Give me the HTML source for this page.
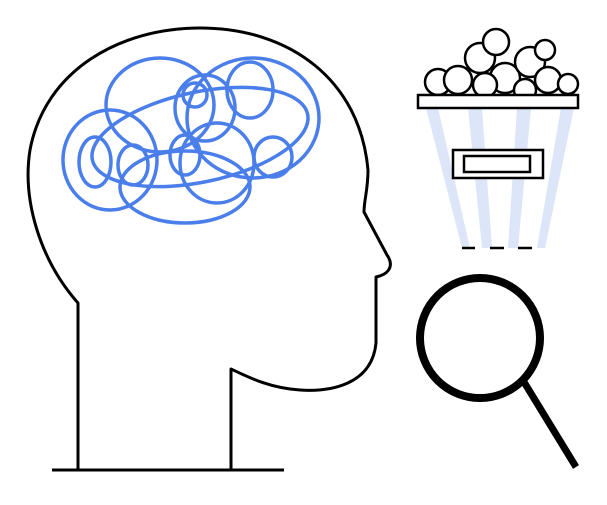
<!DOCTYPE html><html><head><style>body{margin:0;background:#fff}</style></head><body>
<svg width="607" height="500" viewBox="0 0 607 500" xmlns="http://www.w3.org/2000/svg">
<g fill="none" stroke="#000" stroke-width="3" stroke-linejoin="round">
<line x1="52" y1="470" x2="284" y2="470"/>
<path d="M78 470 V303 C40 260 22 200 30 150 C45 70 120 28 200 28 C290 28 360 80 368 170 C368 190 364 200 364 212 L387 255 C394 265 390 274 376 277 V343 C372 385 330 392 300 390 C270 388 250 378 231 369 V470"/>
</g>
<g fill="none" stroke="#4a7eea" stroke-width="3.5">
<ellipse cx="110" cy="160" rx="47" ry="50"/>
<ellipse cx="160" cy="105" rx="54" ry="47"/>
<ellipse cx="253" cy="118" rx="66" ry="60"/>
<ellipse cx="217" cy="163" rx="37" ry="40"/>
<ellipse cx="185" cy="187" rx="65" ry="36"/>
<ellipse cx="273" cy="157" rx="19" ry="20"/>
<ellipse cx="200" cy="137" rx="110" ry="45" transform="rotate(-12 200 137)"/>
<ellipse cx="205" cy="108" rx="30" ry="33"/>
<ellipse cx="250" cy="90" rx="23" ry="28"/>
<ellipse cx="195" cy="95" rx="12" ry="12"/>
<ellipse cx="95" cy="162" rx="16" ry="25"/>
<ellipse cx="133" cy="165" rx="15" ry="20"/>
<ellipse cx="185" cy="155" rx="15" ry="20"/>
</g>
<g fill="#dce6f8">
<polygon points="426,108 438,108 470,248 462,248"/>
<polygon points="468,108 482,108 492,248 482,248"/>
<polygon points="517,108 531,108 518,248 508,248"/>
<polygon points="561,108 574,108 545,248 537,248"/>
</g>
<g fill="#fff" stroke="#000" stroke-width="2.5">
<circle cx="438" cy="82" r="13"/><circle cx="458" cy="80" r="14"/><circle cx="480" cy="58" r="15"/>
<circle cx="496" cy="42" r="13"/><circle cx="505" cy="78" r="15"/><circle cx="530" cy="62" r="15"/>
<circle cx="545" cy="50" r="10"/><circle cx="548" cy="80" r="13"/><circle cx="568" cy="84" r="10"/>
<circle cx="485" cy="85" r="12"/><circle cx="525" cy="90" r="11"/>
<rect x="418" y="95" width="160" height="13"/>
<rect x="453" y="150" width="90" height="28"/>
<rect x="464" y="156" width="66" height="16"/>
</g>
<g stroke="#000" stroke-width="2.5">
<line x1="462" y1="248" x2="475" y2="248"/><line x1="490" y1="248" x2="504" y2="248"/><line x1="518" y1="248" x2="532" y2="248"/>
</g>
<g fill="none" stroke="#000" stroke-width="8">
<circle cx="480" cy="338" r="60"/>
<line x1="524" y1="382" x2="576" y2="467" stroke-width="7"/>
</g>
</svg>
</body></html>
